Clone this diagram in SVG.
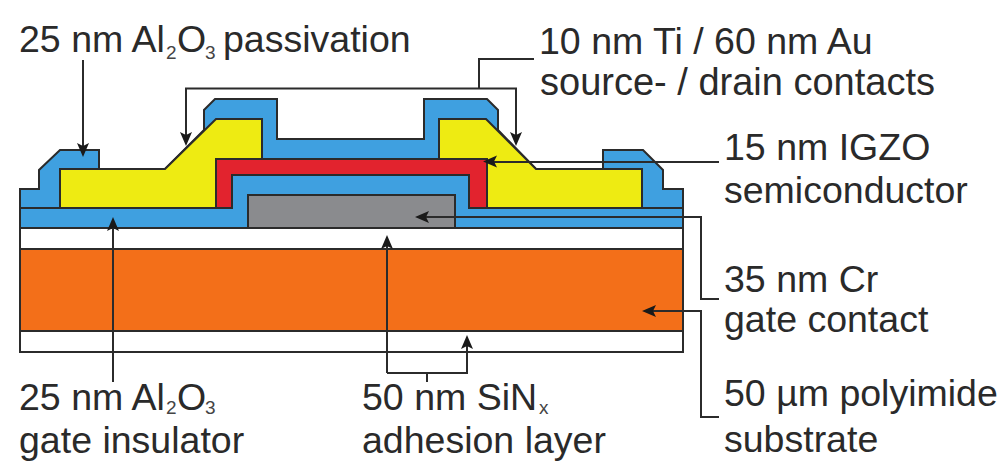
<svg xmlns="http://www.w3.org/2000/svg" width="1000" height="470" viewBox="0 0 1000 470">
<style>
.s{stroke:#2b2b2b;stroke-width:2;stroke-linejoin:miter}
.c{fill:none;stroke:#2b2b2b;stroke-width:2}
.a{fill:#1a1a1a}
text{font-family:"Liberation Sans",Arial,sans-serif;font-size:37.5px;fill:#2a2a2a}
.sub{font-size:19px;fill:#444}
</style>
<rect width="1000" height="470" fill="#fff"/>
<g id="substrate-bottom"><rect class="s" x="20" y="331" width="663" height="21" fill="#fff"/></g>
<g id="substrate"><rect class="s" x="20" y="249" width="663" height="82" fill="#f36f19"/></g>
<g id="adhesion"><rect class="s" x="20" y="228" width="663" height="21" fill="#fff"/></g>
<g id="passivation"><path class="s" fill="#3fa0e0" d="M20 228V189H39V170L60 150H99V169H165L204 130V110L215 99H277V139H424V99H487L498 110V130L536 169H603V150H643L663 170V189H683V228Z"/></g>
<g id="gate"><rect class="s" x="248" y="195" width="207" height="33" fill="#8a8b8e"/></g>
<g id="insulator"><path class="s" fill="#3fa0e0" d="M60 208H20V228H248V195H455V228H683V208H469V175H232V208Z"/></g>
<g id="igzo"><path class="s" fill="#e2232e" d="M216 208V159H487V208H469V175H232V208Z"/></g>
<g id="source"><path class="s" fill="#eeeb12" d="M60 208V169H165L216 119H262V159H216V208Z"/></g>
<g id="drain"><path class="s" fill="#eeeb12" d="M487 208V159H439V119H486L536 169H642V208Z"/></g>
<g id="connectors">
<path class="c" d="M83 60V148"/><path class="a" d="M83 157L77 143L83 146L89 143Z"/>
<path class="c" d="M534 59H479V88.500M186 136V88.500H516V136"/><path class="a" d="M186 146L180 132L186 135L192 132Z"/><path class="a" d="M516 146L510 132L516 135L522 132Z"/>
<path class="c" d="M719 162H490"/><path class="a" d="M483 161.500L497 155.500L494 161.500L497 167.500Z"/>
<path class="c" d="M719 299H701V217H422"/><path class="a" d="M415 217L429 211L426 217L429 223Z"/>
<path class="c" d="M719 417H701V311H650"/><path class="a" d="M642 311L656 305L653 311L656 317Z"/>
<path class="c" d="M113 382V228"/><path class="a" d="M113 217L107 231L113 228L119 231Z"/>
<path class="c" d="M427 382V373M387 373H467V345M387 373V245"/><path class="a" d="M467 335L461 349L467 346L473 349Z"/><path class="a" d="M387 235L381 249L387 246L393 249Z"/>
</g>
<g id="labels">
<text x="19" y="52">25 nm Al<tspan class="sub" x="166" y="59">2</tspan><tspan x="177" y="52">O</tspan><tspan class="sub" x="205" y="59">3</tspan><tspan x="223" y="52">passivation</tspan></text>
<text x="539" y="54">10 nm Ti / 60 nm Au</text>
<text x="540" y="95" style="font-size:38px">source- / drain contacts</text>
<text x="724" y="160">15 nm IGZO</text>
<text x="724" y="203">semiconductor</text>
<text x="724" y="292">35 nm Cr</text>
<text x="724" y="332">gate contact</text>
<text x="724" y="406">50 µm polyimide</text>
<text x="724" y="452">substrate</text>
<text x="19" y="410">25 nm Al<tspan class="sub" x="166" y="414">2</tspan><tspan x="177" y="410">O</tspan><tspan class="sub" x="205" y="414">3</tspan></text>
<text x="19" y="453">gate insulator</text>
<text x="362" y="410">50 nm SiN<tspan class="sub" x="539" y="414">x</tspan></text>
<text x="362" y="453">adhesion layer</text>
</g>
</svg>
